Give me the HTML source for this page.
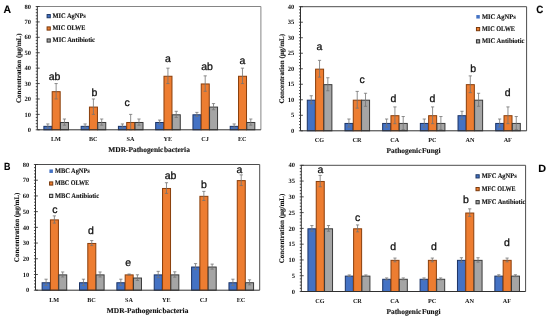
<!DOCTYPE html>
<html lang="en"><head><meta charset="utf-8"><title>MIC / MBC / MFC charts</title>
<style>html,body{margin:0;padding:0;background:#fff}body{width:550px;height:319px;overflow:hidden}svg text{text-rendering:geometricPrecision}.s{stroke:#111;stroke-width:0.12px}</style>
</head><body>
<svg width="550" height="319" viewBox="0 0 550 319" style="display:block;filter:blur(0.35px)">
<path d="M37.3 6.5H260.9V129.8" fill="none" stroke="#858585" stroke-width="1"/>
<rect x="43.88" y="126.35" width="8.00" height="3.45" fill="#4472C4" stroke="#1C3466" stroke-width="1"/>
<rect x="52.18" y="91.67" width="8.00" height="38.13" fill="#ED7D31" stroke="#8A3F0C" stroke-width="1"/>
<rect x="60.48" y="122.49" width="8.00" height="7.31" fill="#A5A5A5" stroke="#3A3A3A" stroke-width="1"/>
<path d="M47.83 123.94V127.95M46.23 123.94H49.43M46.23 127.95H49.43" fill="none" stroke="#747474" stroke-width="0.8"/>
<path d="M56.13 83.56V98.98M54.53 83.56H57.73M54.53 98.98H57.73" fill="none" stroke="#747474" stroke-width="0.8"/>
<path d="M64.43 119.01V125.18M62.83 119.01H66.03M62.83 125.18H66.03" fill="none" stroke="#747474" stroke-width="0.8"/>
<text x="55.93" y="141.10" font-family='"Liberation Serif", serif' font-weight="bold" font-size="6.2" text-anchor="middle" fill="#111">LM</text>
<rect x="81.15" y="126.35" width="8.00" height="3.45" fill="#4472C4" stroke="#1C3466" stroke-width="1"/>
<rect x="89.45" y="107.08" width="8.00" height="22.72" fill="#ED7D31" stroke="#8A3F0C" stroke-width="1"/>
<rect x="97.75" y="122.49" width="8.00" height="7.31" fill="#A5A5A5" stroke="#3A3A3A" stroke-width="1"/>
<path d="M85.10 123.94V127.95M83.50 123.94H86.70M83.50 127.95H86.70" fill="none" stroke="#747474" stroke-width="0.8"/>
<path d="M93.40 98.98V114.39M91.80 98.98H95.00M91.80 114.39H95.00" fill="none" stroke="#747474" stroke-width="0.8"/>
<path d="M101.70 119.01V125.18M100.10 119.01H103.30M100.10 125.18H103.30" fill="none" stroke="#747474" stroke-width="0.8"/>
<text x="93.20" y="141.10" font-family='"Liberation Serif", serif' font-weight="bold" font-size="6.2" text-anchor="middle" fill="#111">BC</text>
<rect x="118.42" y="126.35" width="8.00" height="3.45" fill="#4472C4" stroke="#1C3466" stroke-width="1"/>
<rect x="126.72" y="122.49" width="8.00" height="7.31" fill="#ED7D31" stroke="#8A3F0C" stroke-width="1"/>
<rect x="135.02" y="122.49" width="8.00" height="7.31" fill="#A5A5A5" stroke="#3A3A3A" stroke-width="1"/>
<path d="M122.37 123.94V127.95M120.77 123.94H123.97M120.77 127.95H123.97" fill="none" stroke="#747474" stroke-width="0.8"/>
<path d="M130.67 114.39V129.80M129.07 114.39H132.27M129.07 129.80H132.27" fill="none" stroke="#747474" stroke-width="0.8"/>
<path d="M138.97 119.01V125.18M137.37 119.01H140.57M137.37 125.18H140.57" fill="none" stroke="#747474" stroke-width="0.8"/>
<text x="130.47" y="141.10" font-family='"Liberation Serif", serif' font-weight="bold" font-size="6.2" text-anchor="middle" fill="#111">SA</text>
<rect x="155.68" y="122.49" width="8.00" height="7.31" fill="#4472C4" stroke="#1C3466" stroke-width="1"/>
<rect x="163.98" y="76.26" width="8.00" height="53.54" fill="#ED7D31" stroke="#8A3F0C" stroke-width="1"/>
<rect x="172.28" y="114.79" width="8.00" height="15.01" fill="#A5A5A5" stroke="#3A3A3A" stroke-width="1"/>
<path d="M159.63 120.09V124.10M158.03 120.09H161.23M158.03 124.10H161.23" fill="none" stroke="#747474" stroke-width="0.8"/>
<path d="M167.93 68.15V83.56M166.33 68.15H169.53M166.33 83.56H169.53" fill="none" stroke="#747474" stroke-width="0.8"/>
<path d="M176.23 111.31V117.47M174.63 111.31H177.83M174.63 117.47H177.83" fill="none" stroke="#747474" stroke-width="0.8"/>
<text x="167.73" y="141.10" font-family='"Liberation Serif", serif' font-weight="bold" font-size="6.2" text-anchor="middle" fill="#111">YE</text>
<rect x="192.95" y="114.79" width="8.00" height="15.01" fill="#4472C4" stroke="#1C3466" stroke-width="1"/>
<rect x="201.25" y="83.96" width="8.00" height="45.84" fill="#ED7D31" stroke="#8A3F0C" stroke-width="1"/>
<rect x="209.55" y="107.08" width="8.00" height="22.72" fill="#A5A5A5" stroke="#3A3A3A" stroke-width="1"/>
<path d="M196.90 112.38V116.39M195.30 112.38H198.50M195.30 116.39H198.50" fill="none" stroke="#747474" stroke-width="0.8"/>
<path d="M205.20 75.86V91.27M203.60 75.86H206.80M203.60 91.27H206.80" fill="none" stroke="#747474" stroke-width="0.8"/>
<path d="M213.50 103.60V109.76M211.90 103.60H215.10M211.90 109.76H215.10" fill="none" stroke="#747474" stroke-width="0.8"/>
<text x="205.00" y="141.10" font-family='"Liberation Serif", serif' font-weight="bold" font-size="6.2" text-anchor="middle" fill="#111">CJ</text>
<rect x="230.22" y="126.35" width="8.00" height="3.45" fill="#4472C4" stroke="#1C3466" stroke-width="1"/>
<rect x="238.52" y="76.26" width="8.00" height="53.54" fill="#ED7D31" stroke="#8A3F0C" stroke-width="1"/>
<rect x="246.82" y="122.49" width="8.00" height="7.31" fill="#A5A5A5" stroke="#3A3A3A" stroke-width="1"/>
<path d="M234.17 123.94V127.95M232.57 123.94H235.77M232.57 127.95H235.77" fill="none" stroke="#747474" stroke-width="0.8"/>
<path d="M242.47 68.15V83.56M240.87 68.15H244.07M240.87 83.56H244.07" fill="none" stroke="#747474" stroke-width="0.8"/>
<path d="M250.77 119.01V125.18M249.17 119.01H252.37M249.17 125.18H252.37" fill="none" stroke="#747474" stroke-width="0.8"/>
<text x="242.27" y="141.10" font-family='"Liberation Serif", serif' font-weight="bold" font-size="6.2" text-anchor="middle" fill="#111">EC</text>
<path d="M37.3 6.1V129.8H260.9" fill="none" stroke="#303030" stroke-width="1"/>
<text x="31.10" y="131.95" font-family='"Liberation Serif", serif' font-weight="bold" font-size="6.5" text-anchor="end" fill="#111">0</text>
<text x="31.10" y="116.54" font-family='"Liberation Serif", serif' font-weight="bold" font-size="6.5" text-anchor="end" fill="#111">10</text>
<text x="31.10" y="101.13" font-family='"Liberation Serif", serif' font-weight="bold" font-size="6.5" text-anchor="end" fill="#111">20</text>
<text x="31.10" y="85.71" font-family='"Liberation Serif", serif' font-weight="bold" font-size="6.5" text-anchor="end" fill="#111">30</text>
<text x="31.10" y="70.30" font-family='"Liberation Serif", serif' font-weight="bold" font-size="6.5" text-anchor="end" fill="#111">40</text>
<text x="31.10" y="54.89" font-family='"Liberation Serif", serif' font-weight="bold" font-size="6.5" text-anchor="end" fill="#111">50</text>
<text x="31.10" y="39.48" font-family='"Liberation Serif", serif' font-weight="bold" font-size="6.5" text-anchor="end" fill="#111">60</text>
<text x="31.10" y="24.06" font-family='"Liberation Serif", serif' font-weight="bold" font-size="6.5" text-anchor="end" fill="#111">70</text>
<text x="31.10" y="8.65" font-family='"Liberation Serif", serif' font-weight="bold" font-size="6.5" text-anchor="end" fill="#111">80</text>
<path d="M35.70 129.80H39.70M35.80 126.72H37.30M35.80 123.64H37.30M35.80 120.55H37.30M35.80 117.47H37.30M35.70 114.39H39.70M35.80 111.31H37.30M35.80 108.22H37.30M35.80 105.14H37.30M35.80 102.06H37.30M35.70 98.98H39.70M35.80 95.89H37.30M35.80 92.81H37.30M35.80 89.73H37.30M35.80 86.65H37.30M35.70 83.56H39.70M35.80 80.48H37.30M35.80 77.40H37.30M35.80 74.31H37.30M35.80 71.23H37.30M35.70 68.15H39.70M35.80 65.07H37.30M35.80 61.98H37.30M35.80 58.90H37.30M35.80 55.82H37.30M35.70 52.74H39.70M35.80 49.66H37.30M35.80 46.57H37.30M35.80 43.49H37.30M35.80 40.41H37.30M35.70 37.33H39.70M35.80 34.24H37.30M35.80 31.16H37.30M35.80 28.08H37.30M35.80 24.99H37.30M35.70 21.91H39.70M35.80 18.83H37.30M35.80 15.75H37.30M35.80 12.66H37.30M35.80 9.58H37.30M35.70 6.50H39.70" fill="none" stroke="#303030" stroke-width="0.85"/>
<text transform="translate(20.5 68.15) rotate(-90)" font-family='"Liberation Serif", serif' class="s" font-weight="bold" font-size="7" text-anchor="middle" fill="#111">Concentration (µg/mL)</text>
<text x="149.10" y="152.10" font-family='"Liberation Serif", serif' class="s" font-weight="bold" font-size="7.4" word-spacing="-1.2" text-anchor="middle" fill="#111">MDR-Pathogenic bacteria</text>
<rect x="47.10" y="14.55" width="3.2" height="3.2" fill="#4472C4" stroke="#1F3864" stroke-width="1"/>
<text x="52.50" y="17.95" font-family='"Liberation Serif", serif' class="s" font-weight="bold" font-size="7" textLength="33.3" lengthAdjust="spacingAndGlyphs" fill="#111">MIC AgNPs</text>
<rect x="47.10" y="26.90" width="3.2" height="3.2" fill="#ED7D31" stroke="#7A3A0C" stroke-width="1"/>
<text x="52.50" y="30.30" font-family='"Liberation Serif", serif' class="s" font-weight="bold" font-size="7" textLength="32.9" lengthAdjust="spacingAndGlyphs" fill="#111">MIC OLWE</text>
<rect x="47.10" y="38.90" width="3.2" height="3.2" fill="#A5A5A5" stroke="#333333" stroke-width="1"/>
<text x="52.50" y="42.30" font-family='"Liberation Serif", serif' class="s" font-weight="bold" font-size="7" textLength="42.5" lengthAdjust="spacingAndGlyphs" fill="#111">MIC Antibiotic</text>
<text x="54.60" y="79.90" font-family='"Liberation Sans", sans-serif' font-size="10.5" text-anchor="middle" fill="#111" stroke="#111" stroke-width="0.3">ab</text>
<text x="94.50" y="96.00" font-family='"Liberation Sans", sans-serif' font-size="10.5" text-anchor="middle" fill="#111" stroke="#111" stroke-width="0.3">b</text>
<text x="127.00" y="106.40" font-family='"Liberation Sans", sans-serif' font-size="10.5" text-anchor="middle" fill="#111" stroke="#111" stroke-width="0.3">c</text>
<text x="168.00" y="62.00" font-family='"Liberation Sans", sans-serif' font-size="10.5" text-anchor="middle" fill="#111" stroke="#111" stroke-width="0.3">a</text>
<text x="207.00" y="70.00" font-family='"Liberation Sans", sans-serif' font-size="10.5" text-anchor="middle" fill="#111" stroke="#111" stroke-width="0.3">ab</text>
<text x="242.50" y="64.40" font-family='"Liberation Sans", sans-serif' font-size="10.5" text-anchor="middle" fill="#111" stroke="#111" stroke-width="0.3">a</text>
<text font-family='"Liberation Sans", sans-serif' class="s" font-weight="bold" font-size="11" transform="translate(3.5 12.9) scale(0.95 1)" fill="#000">A</text>
<path d="M35.5 164.5H259.7V290.2" fill="none" stroke="#4d4d4d" stroke-width="1"/>
<rect x="42.13" y="282.74" width="8.00" height="7.46" fill="#4472C4" stroke="#1C3466" stroke-width="1"/>
<rect x="50.43" y="219.89" width="8.00" height="70.31" fill="#ED7D31" stroke="#8A3F0C" stroke-width="1"/>
<rect x="58.73" y="274.89" width="8.00" height="15.31" fill="#A5A5A5" stroke="#3A3A3A" stroke-width="1"/>
<path d="M46.08 279.20V285.49M44.48 279.20H47.68M44.48 285.49H47.68" fill="none" stroke="#747474" stroke-width="0.8"/>
<path d="M54.38 215.88V223.11M52.78 215.88H55.98M52.78 223.11H55.98" fill="none" stroke="#747474" stroke-width="0.8"/>
<path d="M62.68 271.97V277.00M61.08 271.97H64.28M61.08 277.00H64.28" fill="none" stroke="#747474" stroke-width="0.8"/>
<text x="54.18" y="301.50" font-family='"Liberation Serif", serif' font-weight="bold" font-size="6.2" text-anchor="middle" fill="#111">LM</text>
<rect x="79.50" y="282.74" width="8.00" height="7.46" fill="#4472C4" stroke="#1C3466" stroke-width="1"/>
<rect x="87.80" y="243.46" width="8.00" height="46.74" fill="#ED7D31" stroke="#8A3F0C" stroke-width="1"/>
<rect x="96.10" y="274.89" width="8.00" height="15.31" fill="#A5A5A5" stroke="#3A3A3A" stroke-width="1"/>
<path d="M83.45 279.20V285.49M81.85 279.20H85.05M81.85 285.49H85.05" fill="none" stroke="#747474" stroke-width="0.8"/>
<path d="M91.75 240.55V245.58M90.15 240.55H93.35M90.15 245.58H93.35" fill="none" stroke="#747474" stroke-width="0.8"/>
<path d="M100.05 271.97V277.00M98.45 271.97H101.65M98.45 277.00H101.65" fill="none" stroke="#747474" stroke-width="0.8"/>
<text x="91.55" y="301.50" font-family='"Liberation Serif", serif' font-weight="bold" font-size="6.2" text-anchor="middle" fill="#111">BC</text>
<rect x="116.87" y="282.74" width="8.00" height="7.46" fill="#4472C4" stroke="#1C3466" stroke-width="1"/>
<rect x="125.17" y="274.89" width="8.00" height="15.31" fill="#ED7D31" stroke="#8A3F0C" stroke-width="1"/>
<rect x="133.47" y="278.03" width="8.00" height="12.17" fill="#A5A5A5" stroke="#3A3A3A" stroke-width="1"/>
<path d="M120.82 279.20V285.49M119.22 279.20H122.42M119.22 285.49H122.42" fill="none" stroke="#747474" stroke-width="0.8"/>
<path d="M129.12 274.02V274.96M127.52 274.02H130.72M127.52 274.96H130.72" fill="none" stroke="#747474" stroke-width="0.8"/>
<path d="M137.42 274.80V280.46M135.82 274.80H139.02M135.82 280.46H139.02" fill="none" stroke="#747474" stroke-width="0.8"/>
<text x="128.92" y="301.50" font-family='"Liberation Serif", serif' font-weight="bold" font-size="6.2" text-anchor="middle" fill="#111">SA</text>
<rect x="154.23" y="274.89" width="8.00" height="15.31" fill="#4472C4" stroke="#1C3466" stroke-width="1"/>
<rect x="162.53" y="188.47" width="8.00" height="101.73" fill="#ED7D31" stroke="#8A3F0C" stroke-width="1"/>
<rect x="170.83" y="274.89" width="8.00" height="15.31" fill="#A5A5A5" stroke="#3A3A3A" stroke-width="1"/>
<path d="M158.18 271.35V277.63M156.58 271.35H159.78M156.58 277.63H159.78" fill="none" stroke="#747474" stroke-width="0.8"/>
<path d="M166.48 182.73V193.41M164.88 182.73H168.08M164.88 193.41H168.08" fill="none" stroke="#747474" stroke-width="0.8"/>
<path d="M174.78 271.82V277.16M173.18 271.82H176.38M173.18 277.16H176.38" fill="none" stroke="#747474" stroke-width="0.8"/>
<text x="166.28" y="301.50" font-family='"Liberation Serif", serif' font-weight="bold" font-size="6.2" text-anchor="middle" fill="#111">YE</text>
<rect x="191.60" y="267.03" width="8.00" height="23.17" fill="#4472C4" stroke="#1C3466" stroke-width="1"/>
<rect x="199.90" y="196.33" width="8.00" height="93.87" fill="#ED7D31" stroke="#8A3F0C" stroke-width="1"/>
<rect x="208.20" y="267.03" width="8.00" height="23.17" fill="#A5A5A5" stroke="#3A3A3A" stroke-width="1"/>
<path d="M195.55 263.65V269.62M193.95 263.65H197.15M193.95 269.62H197.15" fill="none" stroke="#747474" stroke-width="0.8"/>
<path d="M203.85 191.37V200.48M202.25 191.37H205.45M202.25 200.48H205.45" fill="none" stroke="#747474" stroke-width="0.8"/>
<path d="M212.15 264.12V269.15M210.55 264.12H213.75M210.55 269.15H213.75" fill="none" stroke="#747474" stroke-width="0.8"/>
<text x="203.65" y="301.50" font-family='"Liberation Serif", serif' font-weight="bold" font-size="6.2" text-anchor="middle" fill="#111">CJ</text>
<rect x="228.97" y="282.74" width="8.00" height="7.46" fill="#4472C4" stroke="#1C3466" stroke-width="1"/>
<rect x="237.27" y="180.61" width="8.00" height="109.59" fill="#ED7D31" stroke="#8A3F0C" stroke-width="1"/>
<rect x="245.57" y="282.74" width="8.00" height="7.46" fill="#A5A5A5" stroke="#3A3A3A" stroke-width="1"/>
<path d="M232.92 279.20V285.49M231.32 279.20H234.52M231.32 285.49H234.52" fill="none" stroke="#747474" stroke-width="0.8"/>
<path d="M241.22 174.87V185.55M239.62 174.87H242.82M239.62 185.55H242.82" fill="none" stroke="#747474" stroke-width="0.8"/>
<path d="M249.52 279.83V284.86M247.92 279.83H251.12M247.92 284.86H251.12" fill="none" stroke="#747474" stroke-width="0.8"/>
<text x="241.02" y="301.50" font-family='"Liberation Serif", serif' font-weight="bold" font-size="6.2" text-anchor="middle" fill="#111">EC</text>
<path d="M35.5 164.1V290.2H259.7" fill="none" stroke="#303030" stroke-width="1"/>
<text x="29.30" y="292.35" font-family='"Liberation Serif", serif' font-weight="bold" font-size="6.5" text-anchor="end" fill="#111">0</text>
<text x="29.30" y="276.64" font-family='"Liberation Serif", serif' font-weight="bold" font-size="6.5" text-anchor="end" fill="#111">10</text>
<text x="29.30" y="260.92" font-family='"Liberation Serif", serif' font-weight="bold" font-size="6.5" text-anchor="end" fill="#111">20</text>
<text x="29.30" y="245.21" font-family='"Liberation Serif", serif' font-weight="bold" font-size="6.5" text-anchor="end" fill="#111">30</text>
<text x="29.30" y="229.50" font-family='"Liberation Serif", serif' font-weight="bold" font-size="6.5" text-anchor="end" fill="#111">40</text>
<text x="29.30" y="213.79" font-family='"Liberation Serif", serif' font-weight="bold" font-size="6.5" text-anchor="end" fill="#111">50</text>
<text x="29.30" y="198.08" font-family='"Liberation Serif", serif' font-weight="bold" font-size="6.5" text-anchor="end" fill="#111">60</text>
<text x="29.30" y="182.36" font-family='"Liberation Serif", serif' font-weight="bold" font-size="6.5" text-anchor="end" fill="#111">70</text>
<text x="29.30" y="166.65" font-family='"Liberation Serif", serif' font-weight="bold" font-size="6.5" text-anchor="end" fill="#111">80</text>
<path d="M33.90 290.20H37.90M34.00 287.06H35.50M34.00 283.91H35.50M34.00 280.77H35.50M34.00 277.63H35.50M33.90 274.49H37.90M34.00 271.34H35.50M34.00 268.20H35.50M34.00 265.06H35.50M34.00 261.92H35.50M33.90 258.77H37.90M34.00 255.63H35.50M34.00 252.49H35.50M34.00 249.35H35.50M34.00 246.20H35.50M33.90 243.06H37.90M34.00 239.92H35.50M34.00 236.78H35.50M34.00 233.63H35.50M34.00 230.49H35.50M33.90 227.35H37.90M34.00 224.21H35.50M34.00 221.06H35.50M34.00 217.92H35.50M34.00 214.78H35.50M33.90 211.64H37.90M34.00 208.50H35.50M34.00 205.35H35.50M34.00 202.21H35.50M34.00 199.07H35.50M33.90 195.93H37.90M34.00 192.78H35.50M34.00 189.64H35.50M34.00 186.50H35.50M34.00 183.36H35.50M33.90 180.21H37.90M34.00 177.07H35.50M34.00 173.93H35.50M34.00 170.78H35.50M34.00 167.64H35.50M33.90 164.50H37.90" fill="none" stroke="#303030" stroke-width="0.85"/>
<text transform="translate(19.0 227.35) rotate(-90)" font-family='"Liberation Serif", serif' class="s" font-weight="bold" font-size="7" text-anchor="middle" fill="#111">Concentration (µg/mL)</text>
<text x="147.60" y="312.50" font-family='"Liberation Serif", serif' class="s" font-weight="bold" font-size="7.4" word-spacing="-1.2" text-anchor="middle" fill="#111">MDR-Pathogenic bacteria</text>
<rect x="49.40" y="169.45" width="3.5" height="3.5" fill="#4472C4"/>
<text x="55.00" y="173.00" font-family='"Liberation Serif", serif' class="s" font-weight="bold" font-size="7" textLength="34.8" lengthAdjust="spacingAndGlyphs" fill="#111">MBC AgNPs</text>
<rect x="49.55" y="181.90" width="3.2" height="3.2" fill="#ED7D31" stroke="#7A3A0C" stroke-width="1"/>
<text x="55.00" y="185.30" font-family='"Liberation Serif", serif' class="s" font-weight="bold" font-size="7" textLength="34.2" lengthAdjust="spacingAndGlyphs" fill="#111">MBC OLWE</text>
<rect x="49.55" y="194.30" width="3.2" height="3.2" fill="#D0D0D0" stroke="#333333" stroke-width="1"/>
<text x="55.00" y="197.70" font-family='"Liberation Serif", serif' class="s" font-weight="bold" font-size="7" textLength="44" lengthAdjust="spacingAndGlyphs" fill="#111">MBC Antibiotic</text>
<text x="54.90" y="212.60" font-family='"Liberation Sans", sans-serif' font-size="10.5" text-anchor="middle" fill="#111" stroke="#111" stroke-width="0.3">c</text>
<text x="90.80" y="234.00" font-family='"Liberation Sans", sans-serif' font-size="10.5" text-anchor="middle" fill="#111" stroke="#111" stroke-width="0.3">d</text>
<text x="128.20" y="265.60" font-family='"Liberation Sans", sans-serif' font-size="10.5" text-anchor="middle" fill="#111" stroke="#111" stroke-width="0.3">e</text>
<text x="170.50" y="179.10" font-family='"Liberation Sans", sans-serif' font-size="10.5" text-anchor="middle" fill="#111" stroke="#111" stroke-width="0.3">ab</text>
<text x="204.00" y="188.00" font-family='"Liberation Sans", sans-serif' font-size="10.5" text-anchor="middle" fill="#111" stroke="#111" stroke-width="0.3">b</text>
<text x="239.50" y="172.70" font-family='"Liberation Sans", sans-serif' font-size="10.5" text-anchor="middle" fill="#111" stroke="#111" stroke-width="0.3">a</text>
<text font-family='"Liberation Sans", sans-serif' class="s" font-weight="bold" font-size="10.5" transform="translate(4.0 170.4) scale(0.85 1)" fill="#000">B</text>
<path d="M300.5 6.7H526.6V130.8" fill="none" stroke="#4d4d4d" stroke-width="1"/>
<rect x="307.29" y="100.18" width="8.00" height="30.62" fill="#4472C4" stroke="#1C3466" stroke-width="1"/>
<rect x="315.59" y="69.15" width="8.00" height="61.65" fill="#ED7D31" stroke="#8A3F0C" stroke-width="1"/>
<rect x="323.89" y="84.66" width="8.00" height="46.14" fill="#A5A5A5" stroke="#3A3A3A" stroke-width="1"/>
<path d="M311.24 95.74V103.81M309.64 95.74H312.84M309.64 103.81H312.84" fill="none" stroke="#747474" stroke-width="0.8"/>
<path d="M319.54 60.37V77.13M317.94 60.37H321.14M317.94 77.13H321.14" fill="none" stroke="#747474" stroke-width="0.8"/>
<path d="M327.84 77.75V90.78M326.24 77.75H329.44M326.24 90.78H329.44" fill="none" stroke="#747474" stroke-width="0.8"/>
<text x="319.34" y="142.10" font-family='"Liberation Serif", serif' font-weight="bold" font-size="6.2" text-anchor="middle" fill="#111">CG</text>
<rect x="344.97" y="123.44" width="8.00" height="7.36" fill="#4472C4" stroke="#1C3466" stroke-width="1"/>
<rect x="353.27" y="100.18" width="8.00" height="30.62" fill="#ED7D31" stroke="#8A3F0C" stroke-width="1"/>
<rect x="361.57" y="100.18" width="8.00" height="30.62" fill="#A5A5A5" stroke="#3A3A3A" stroke-width="1"/>
<path d="M348.92 119.01V127.08M347.32 119.01H350.52M347.32 127.08H350.52" fill="none" stroke="#747474" stroke-width="0.8"/>
<path d="M357.22 91.40V108.15M355.62 91.40H358.82M355.62 108.15H358.82" fill="none" stroke="#747474" stroke-width="0.8"/>
<path d="M365.52 93.26V106.29M363.92 93.26H367.12M363.92 106.29H367.12" fill="none" stroke="#747474" stroke-width="0.8"/>
<text x="357.02" y="142.10" font-family='"Liberation Serif", serif' font-weight="bold" font-size="6.2" text-anchor="middle" fill="#111">CR</text>
<rect x="382.66" y="123.44" width="8.00" height="7.36" fill="#4472C4" stroke="#1C3466" stroke-width="1"/>
<rect x="390.96" y="115.69" width="8.00" height="15.11" fill="#ED7D31" stroke="#8A3F0C" stroke-width="1"/>
<rect x="399.26" y="123.44" width="8.00" height="7.36" fill="#A5A5A5" stroke="#3A3A3A" stroke-width="1"/>
<path d="M386.61 119.01V127.08M385.01 119.01H388.21M385.01 127.08H388.21" fill="none" stroke="#747474" stroke-width="0.8"/>
<path d="M394.91 106.91V123.66M393.31 106.91H396.51M393.31 123.66H396.51" fill="none" stroke="#747474" stroke-width="0.8"/>
<path d="M403.21 116.53V129.56M401.61 116.53H404.81M401.61 129.56H404.81" fill="none" stroke="#747474" stroke-width="0.8"/>
<text x="394.71" y="142.10" font-family='"Liberation Serif", serif' font-weight="bold" font-size="6.2" text-anchor="middle" fill="#111">CA</text>
<rect x="420.34" y="123.44" width="8.00" height="7.36" fill="#4472C4" stroke="#1C3466" stroke-width="1"/>
<rect x="428.64" y="115.69" width="8.00" height="15.11" fill="#ED7D31" stroke="#8A3F0C" stroke-width="1"/>
<rect x="436.94" y="123.44" width="8.00" height="7.36" fill="#A5A5A5" stroke="#3A3A3A" stroke-width="1"/>
<path d="M424.29 119.01V127.08M422.69 119.01H425.89M422.69 127.08H425.89" fill="none" stroke="#747474" stroke-width="0.8"/>
<path d="M432.59 106.91V123.66M430.99 106.91H434.19M430.99 123.66H434.19" fill="none" stroke="#747474" stroke-width="0.8"/>
<path d="M440.89 116.53V129.56M439.29 116.53H442.49M439.29 129.56H442.49" fill="none" stroke="#747474" stroke-width="0.8"/>
<text x="432.39" y="142.10" font-family='"Liberation Serif", serif' font-weight="bold" font-size="6.2" text-anchor="middle" fill="#111">PC</text>
<rect x="458.03" y="115.69" width="8.00" height="15.11" fill="#4472C4" stroke="#1C3466" stroke-width="1"/>
<rect x="466.33" y="84.66" width="8.00" height="46.14" fill="#ED7D31" stroke="#8A3F0C" stroke-width="1"/>
<rect x="474.62" y="100.18" width="8.00" height="30.62" fill="#A5A5A5" stroke="#3A3A3A" stroke-width="1"/>
<path d="M461.98 111.25V119.32M460.38 111.25H463.58M460.38 119.32H463.58" fill="none" stroke="#747474" stroke-width="0.8"/>
<path d="M470.28 75.89V92.64M468.68 75.89H471.88M468.68 92.64H471.88" fill="none" stroke="#747474" stroke-width="0.8"/>
<path d="M478.57 93.26V106.29M476.97 93.26H480.18M476.97 106.29H480.18" fill="none" stroke="#747474" stroke-width="0.8"/>
<text x="470.08" y="142.10" font-family='"Liberation Serif", serif' font-weight="bold" font-size="6.2" text-anchor="middle" fill="#111">AN</text>
<rect x="495.71" y="123.44" width="8.00" height="7.36" fill="#4472C4" stroke="#1C3466" stroke-width="1"/>
<rect x="504.01" y="115.69" width="8.00" height="15.11" fill="#ED7D31" stroke="#8A3F0C" stroke-width="1"/>
<rect x="512.31" y="123.44" width="8.00" height="7.36" fill="#A5A5A5" stroke="#3A3A3A" stroke-width="1"/>
<path d="M499.66 119.01V127.08M498.06 119.01H501.26M498.06 127.08H501.26" fill="none" stroke="#747474" stroke-width="0.8"/>
<path d="M507.96 106.91V123.66M506.36 106.91H509.56M506.36 123.66H509.56" fill="none" stroke="#747474" stroke-width="0.8"/>
<path d="M516.26 116.53V129.56M514.66 116.53H517.86M514.66 129.56H517.86" fill="none" stroke="#747474" stroke-width="0.8"/>
<text x="507.76" y="142.10" font-family='"Liberation Serif", serif' font-weight="bold" font-size="6.2" text-anchor="middle" fill="#111">AF</text>
<path d="M300.5 6.3V130.8H526.6" fill="none" stroke="#303030" stroke-width="1"/>
<text x="294.30" y="132.95" font-family='"Liberation Serif", serif' font-weight="bold" font-size="6.5" text-anchor="end" fill="#111">0</text>
<text x="294.30" y="117.44" font-family='"Liberation Serif", serif' font-weight="bold" font-size="6.5" text-anchor="end" fill="#111">5</text>
<text x="294.30" y="101.93" font-family='"Liberation Serif", serif' font-weight="bold" font-size="6.5" text-anchor="end" fill="#111">10</text>
<text x="294.30" y="86.41" font-family='"Liberation Serif", serif' font-weight="bold" font-size="6.5" text-anchor="end" fill="#111">15</text>
<text x="294.30" y="70.90" font-family='"Liberation Serif", serif' font-weight="bold" font-size="6.5" text-anchor="end" fill="#111">20</text>
<text x="294.30" y="55.39" font-family='"Liberation Serif", serif' font-weight="bold" font-size="6.5" text-anchor="end" fill="#111">25</text>
<text x="294.30" y="39.88" font-family='"Liberation Serif", serif' font-weight="bold" font-size="6.5" text-anchor="end" fill="#111">30</text>
<text x="294.30" y="24.36" font-family='"Liberation Serif", serif' font-weight="bold" font-size="6.5" text-anchor="end" fill="#111">35</text>
<text x="294.30" y="8.85" font-family='"Liberation Serif", serif' font-weight="bold" font-size="6.5" text-anchor="end" fill="#111">40</text>
<path d="M298.90 130.80H302.90M299.00 127.70H300.50M299.00 124.60H300.50M299.00 121.49H300.50M299.00 118.39H300.50M298.90 115.29H302.90M299.00 112.19H300.50M299.00 109.08H300.50M299.00 105.98H300.50M299.00 102.88H300.50M298.90 99.78H302.90M299.00 96.67H300.50M299.00 93.57H300.50M299.00 90.47H300.50M299.00 87.37H300.50M298.90 84.26H302.90M299.00 81.16H300.50M299.00 78.06H300.50M299.00 74.96H300.50M299.00 71.85H300.50M298.90 68.75H302.90M299.00 65.65H300.50M299.00 62.55H300.50M299.00 59.44H300.50M299.00 56.34H300.50M298.90 53.24H302.90M299.00 50.14H300.50M299.00 47.03H300.50M299.00 43.93H300.50M299.00 40.83H300.50M298.90 37.73H302.90M299.00 34.62H300.50M299.00 31.52H300.50M299.00 28.42H300.50M299.00 25.32H300.50M298.90 22.21H302.90M299.00 19.11H300.50M299.00 16.01H300.50M299.00 12.91H300.50M299.00 9.80H300.50M298.90 6.70H302.90" fill="none" stroke="#303030" stroke-width="0.85"/>
<text transform="translate(284.1 68.75) rotate(-90)" font-family='"Liberation Serif", serif' class="s" font-weight="bold" font-size="7" text-anchor="middle" fill="#111">Concentration (µg/mL)</text>
<text x="413.55" y="153.20" font-family='"Liberation Serif", serif' class="s" font-weight="bold" font-size="7.4" word-spacing="-1.2" text-anchor="middle" fill="#111">Pathogenic Fungi</text>
<rect x="476.30" y="15.05" width="3.5" height="3.5" fill="#4472C4"/>
<text x="481.90" y="18.60" font-family='"Liberation Serif", serif' class="s" font-weight="bold" font-size="7" textLength="33.9" lengthAdjust="spacingAndGlyphs" fill="#111">MIC AgNPs</text>
<rect x="476.45" y="27.50" width="3.2" height="3.2" fill="#ED7D31" stroke="#7A3A0C" stroke-width="1"/>
<text x="481.90" y="30.90" font-family='"Liberation Serif", serif' class="s" font-weight="bold" font-size="7" textLength="33.1" lengthAdjust="spacingAndGlyphs" fill="#111">MIC OLWE</text>
<rect x="476.45" y="39.75" width="3.2" height="3.2" fill="#A5A5A5" stroke="#333333" stroke-width="1"/>
<text x="481.90" y="43.15" font-family='"Liberation Serif", serif' class="s" font-weight="bold" font-size="7" textLength="42.6" lengthAdjust="spacingAndGlyphs" fill="#111">MIC Antibiotic</text>
<text x="319.50" y="50.40" font-family='"Liberation Sans", sans-serif' font-size="10.5" text-anchor="middle" fill="#111" stroke="#111" stroke-width="0.3">a</text>
<text x="362.20" y="83.00" font-family='"Liberation Sans", sans-serif' font-size="10.5" text-anchor="middle" fill="#111" stroke="#111" stroke-width="0.3">c</text>
<text x="393.30" y="102.00" font-family='"Liberation Sans", sans-serif' font-size="10.5" text-anchor="middle" fill="#111" stroke="#111" stroke-width="0.3">d</text>
<text x="432.50" y="102.00" font-family='"Liberation Sans", sans-serif' font-size="10.5" text-anchor="middle" fill="#111" stroke="#111" stroke-width="0.3">d</text>
<text x="473.20" y="71.50" font-family='"Liberation Sans", sans-serif' font-size="10.5" text-anchor="middle" fill="#111" stroke="#111" stroke-width="0.3">b</text>
<text x="507.60" y="96.20" font-family='"Liberation Sans", sans-serif' font-size="10.5" text-anchor="middle" fill="#111" stroke="#111" stroke-width="0.3">d</text>
<text font-family='"Liberation Sans", sans-serif' class="s" font-weight="bold" font-size="10.5" transform="translate(536.3 13.0) scale(0.93 1)" fill="#000">C</text>
<path d="M301.3 165.3H525.6V291.5" fill="none" stroke="#4d4d4d" stroke-width="1"/>
<rect x="307.94" y="228.80" width="8.00" height="62.70" fill="#4472C4" stroke="#1C3466" stroke-width="1"/>
<rect x="316.24" y="181.47" width="8.00" height="110.02" fill="#ED7D31" stroke="#8A3F0C" stroke-width="1"/>
<rect x="324.54" y="228.80" width="8.00" height="62.70" fill="#A5A5A5" stroke="#3A3A3A" stroke-width="1"/>
<path d="M311.89 225.56V231.24M310.29 225.56H313.49M310.29 231.24H313.49" fill="none" stroke="#747474" stroke-width="0.8"/>
<path d="M320.19 175.40V186.75M318.59 175.40H321.79M318.59 186.75H321.79" fill="none" stroke="#747474" stroke-width="0.8"/>
<path d="M328.49 225.56V231.24M326.89 225.56H330.09M326.89 231.24H330.09" fill="none" stroke="#747474" stroke-width="0.8"/>
<text x="319.99" y="302.80" font-family='"Liberation Serif", serif' font-weight="bold" font-size="6.2" text-anchor="middle" fill="#111">CG</text>
<rect x="345.32" y="276.12" width="8.00" height="15.37" fill="#4472C4" stroke="#1C3466" stroke-width="1"/>
<rect x="353.62" y="228.80" width="8.00" height="62.70" fill="#ED7D31" stroke="#8A3F0C" stroke-width="1"/>
<rect x="361.92" y="276.12" width="8.00" height="15.37" fill="#A5A5A5" stroke="#3A3A3A" stroke-width="1"/>
<path d="M349.27 274.94V276.51M347.67 274.94H350.88M347.67 276.51H350.88" fill="none" stroke="#747474" stroke-width="0.8"/>
<path d="M357.57 224.93V231.87M355.97 224.93H359.18M355.97 231.87H359.18" fill="none" stroke="#747474" stroke-width="0.8"/>
<path d="M365.87 274.94V276.51M364.27 274.94H367.47M364.27 276.51H367.47" fill="none" stroke="#747474" stroke-width="0.8"/>
<text x="357.38" y="302.80" font-family='"Liberation Serif", serif' font-weight="bold" font-size="6.2" text-anchor="middle" fill="#111">CR</text>
<rect x="382.71" y="279.28" width="8.00" height="12.22" fill="#4472C4" stroke="#1C3466" stroke-width="1"/>
<rect x="391.01" y="260.35" width="8.00" height="31.15" fill="#ED7D31" stroke="#8A3F0C" stroke-width="1"/>
<rect x="399.31" y="279.28" width="8.00" height="12.22" fill="#A5A5A5" stroke="#3A3A3A" stroke-width="1"/>
<path d="M386.66 277.93V279.83M385.06 277.93H388.26M385.06 279.83H388.26" fill="none" stroke="#747474" stroke-width="0.8"/>
<path d="M394.96 258.06V261.84M393.36 258.06H396.56M393.36 261.84H396.56" fill="none" stroke="#747474" stroke-width="0.8"/>
<path d="M403.26 277.93V279.83M401.66 277.93H404.86M401.66 279.83H404.86" fill="none" stroke="#747474" stroke-width="0.8"/>
<text x="394.76" y="302.80" font-family='"Liberation Serif", serif' font-weight="bold" font-size="6.2" text-anchor="middle" fill="#111">CA</text>
<rect x="420.09" y="279.28" width="8.00" height="12.22" fill="#4472C4" stroke="#1C3466" stroke-width="1"/>
<rect x="428.39" y="260.35" width="8.00" height="31.15" fill="#ED7D31" stroke="#8A3F0C" stroke-width="1"/>
<rect x="436.69" y="279.28" width="8.00" height="12.22" fill="#A5A5A5" stroke="#3A3A3A" stroke-width="1"/>
<path d="M424.04 277.93V279.83M422.44 277.93H425.64M422.44 279.83H425.64" fill="none" stroke="#747474" stroke-width="0.8"/>
<path d="M432.34 258.06V261.84M430.74 258.06H433.94M430.74 261.84H433.94" fill="none" stroke="#747474" stroke-width="0.8"/>
<path d="M440.64 277.93V279.83M439.04 277.93H442.24M439.04 279.83H442.24" fill="none" stroke="#747474" stroke-width="0.8"/>
<text x="432.14" y="302.80" font-family='"Liberation Serif", serif' font-weight="bold" font-size="6.2" text-anchor="middle" fill="#111">PC</text>
<rect x="457.47" y="260.35" width="8.00" height="31.15" fill="#4472C4" stroke="#1C3466" stroke-width="1"/>
<rect x="465.77" y="213.03" width="8.00" height="78.47" fill="#ED7D31" stroke="#8A3F0C" stroke-width="1"/>
<rect x="474.07" y="260.35" width="8.00" height="31.15" fill="#A5A5A5" stroke="#3A3A3A" stroke-width="1"/>
<path d="M461.42 257.74V262.16M459.82 257.74H463.02M459.82 262.16H463.02" fill="none" stroke="#747474" stroke-width="0.8"/>
<path d="M469.72 208.84V216.41M468.12 208.84H471.32M468.12 216.41H471.32" fill="none" stroke="#747474" stroke-width="0.8"/>
<path d="M478.02 257.74V262.16M476.42 257.74H479.62M476.42 262.16H479.62" fill="none" stroke="#747474" stroke-width="0.8"/>
<text x="469.52" y="302.80" font-family='"Liberation Serif", serif' font-weight="bold" font-size="6.2" text-anchor="middle" fill="#111">AN</text>
<rect x="494.86" y="276.12" width="8.00" height="15.37" fill="#4472C4" stroke="#1C3466" stroke-width="1"/>
<rect x="503.16" y="260.35" width="8.00" height="31.15" fill="#ED7D31" stroke="#8A3F0C" stroke-width="1"/>
<rect x="511.46" y="276.12" width="8.00" height="15.37" fill="#A5A5A5" stroke="#3A3A3A" stroke-width="1"/>
<path d="M498.81 274.78V276.67M497.21 274.78H500.41M497.21 276.67H500.41" fill="none" stroke="#747474" stroke-width="0.8"/>
<path d="M507.11 258.06V261.84M505.51 258.06H508.71M505.51 261.84H508.71" fill="none" stroke="#747474" stroke-width="0.8"/>
<path d="M515.41 274.78V276.67M513.81 274.78H517.01M513.81 276.67H517.01" fill="none" stroke="#747474" stroke-width="0.8"/>
<text x="506.91" y="302.80" font-family='"Liberation Serif", serif' font-weight="bold" font-size="6.2" text-anchor="middle" fill="#111">AF</text>
<path d="M301.3 164.9V291.5H525.6" fill="none" stroke="#303030" stroke-width="1"/>
<text x="295.10" y="293.65" font-family='"Liberation Serif", serif' font-weight="bold" font-size="6.5" text-anchor="end" fill="#111">0</text>
<text x="295.10" y="277.88" font-family='"Liberation Serif", serif' font-weight="bold" font-size="6.5" text-anchor="end" fill="#111">5</text>
<text x="295.10" y="262.10" font-family='"Liberation Serif", serif' font-weight="bold" font-size="6.5" text-anchor="end" fill="#111">10</text>
<text x="295.10" y="246.33" font-family='"Liberation Serif", serif' font-weight="bold" font-size="6.5" text-anchor="end" fill="#111">15</text>
<text x="295.10" y="230.55" font-family='"Liberation Serif", serif' font-weight="bold" font-size="6.5" text-anchor="end" fill="#111">20</text>
<text x="295.10" y="214.78" font-family='"Liberation Serif", serif' font-weight="bold" font-size="6.5" text-anchor="end" fill="#111">25</text>
<text x="295.10" y="199.00" font-family='"Liberation Serif", serif' font-weight="bold" font-size="6.5" text-anchor="end" fill="#111">30</text>
<text x="295.10" y="183.22" font-family='"Liberation Serif", serif' font-weight="bold" font-size="6.5" text-anchor="end" fill="#111">35</text>
<text x="295.10" y="167.45" font-family='"Liberation Serif", serif' font-weight="bold" font-size="6.5" text-anchor="end" fill="#111">40</text>
<path d="M299.70 291.50H303.70M299.80 288.35H301.30M299.80 285.19H301.30M299.80 282.04H301.30M299.80 278.88H301.30M299.70 275.73H303.70M299.80 272.57H301.30M299.80 269.42H301.30M299.80 266.26H301.30M299.80 263.11H301.30M299.70 259.95H303.70M299.80 256.80H301.30M299.80 253.64H301.30M299.80 250.49H301.30M299.80 247.33H301.30M299.70 244.18H303.70M299.80 241.02H301.30M299.80 237.87H301.30M299.80 234.71H301.30M299.80 231.56H301.30M299.70 228.40H303.70M299.80 225.25H301.30M299.80 222.09H301.30M299.80 218.94H301.30M299.80 215.78H301.30M299.70 212.62H303.70M299.80 209.47H301.30M299.80 206.31H301.30M299.80 203.16H301.30M299.80 200.00H301.30M299.70 196.85H303.70M299.80 193.69H301.30M299.80 190.54H301.30M299.80 187.38H301.30M299.80 184.23H301.30M299.70 181.07H303.70M299.80 177.92H301.30M299.80 174.76H301.30M299.80 171.61H301.30M299.80 168.46H301.30M299.70 165.30H303.70" fill="none" stroke="#303030" stroke-width="0.85"/>
<text transform="translate(284.1 228.40) rotate(-90)" font-family='"Liberation Serif", serif' class="s" font-weight="bold" font-size="7" text-anchor="middle" fill="#111">Concentration (µg/mL)</text>
<text x="413.45" y="313.90" font-family='"Liberation Serif", serif' class="s" font-weight="bold" font-size="7.4" word-spacing="-1.2" text-anchor="middle" fill="#111">Pathogenic Fungi</text>
<rect x="476.00" y="174.75" width="3.2" height="3.2" fill="#4472C4" stroke="#1F3864" stroke-width="1"/>
<text x="481.70" y="178.15" font-family='"Liberation Serif", serif' class="s" font-weight="bold" font-size="7" textLength="35" lengthAdjust="spacingAndGlyphs" fill="#111">MFC AgNPs</text>
<rect x="476.00" y="187.50" width="3.2" height="3.2" fill="#ED7D31" stroke="#7A3A0C" stroke-width="1"/>
<text x="481.70" y="190.90" font-family='"Liberation Serif", serif' class="s" font-weight="bold" font-size="7" textLength="33.9" lengthAdjust="spacingAndGlyphs" fill="#111">MFC OLWE</text>
<rect x="476.00" y="200.60" width="3.2" height="3.2" fill="#A5A5A5" stroke="#333333" stroke-width="1"/>
<text x="481.70" y="204.00" font-family='"Liberation Serif", serif' class="s" font-weight="bold" font-size="7" textLength="43.7" lengthAdjust="spacingAndGlyphs" fill="#111">MFC Antibiotic</text>
<text x="320.30" y="172.70" font-family='"Liberation Sans", sans-serif' font-size="10.5" text-anchor="middle" fill="#111" stroke="#111" stroke-width="0.3">a</text>
<text x="357.70" y="221.00" font-family='"Liberation Sans", sans-serif' font-size="10.5" text-anchor="middle" fill="#111" stroke="#111" stroke-width="0.3">c</text>
<text x="393.20" y="250.00" font-family='"Liberation Sans", sans-serif' font-size="10.5" text-anchor="middle" fill="#111" stroke="#111" stroke-width="0.3">d</text>
<text x="434.00" y="250.00" font-family='"Liberation Sans", sans-serif' font-size="10.5" text-anchor="middle" fill="#111" stroke="#111" stroke-width="0.3">d</text>
<text x="466.00" y="202.70" font-family='"Liberation Sans", sans-serif' font-size="10.5" text-anchor="middle" fill="#111" stroke="#111" stroke-width="0.3">b</text>
<text x="507.00" y="246.20" font-family='"Liberation Sans", sans-serif' font-size="10.5" text-anchor="middle" fill="#111" stroke="#111" stroke-width="0.3">d</text>
<text font-family='"Liberation Sans", sans-serif' class="s" font-weight="bold" font-size="10.5" transform="translate(538.3 172.2) scale(1.03 1)" fill="#000">D</text>
</svg>
</body></html>
